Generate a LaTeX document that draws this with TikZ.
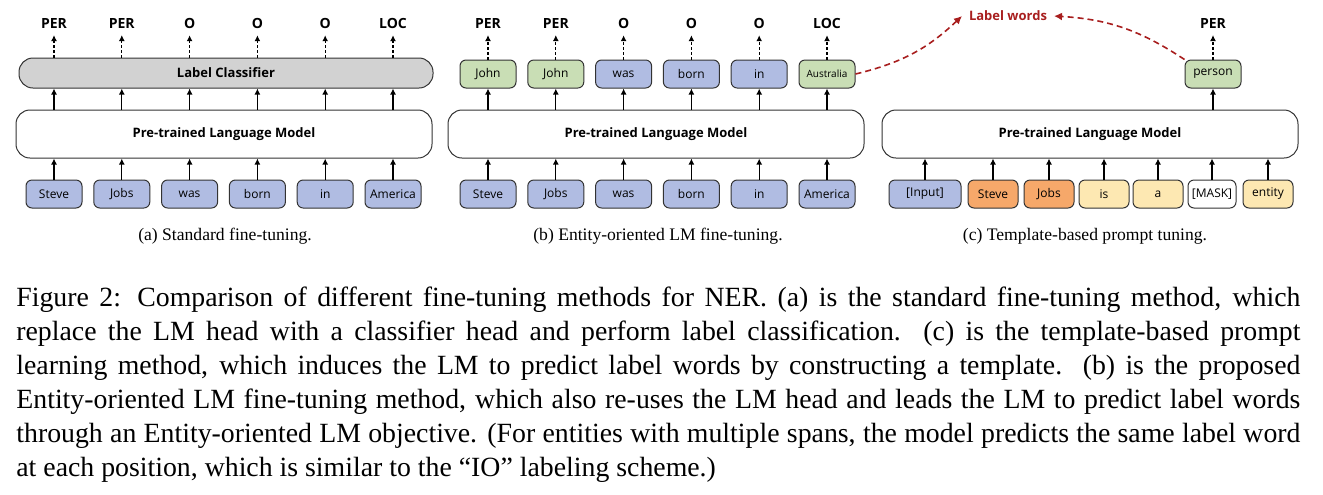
\documentclass[tikz,border=0pt]{standalone}
\usepackage{fontspec}
\setmainfont{Liberation Serif}
\newfontfamily\gsans{Open Sans}
\usetikzlibrary{positioning,arrows.meta}
\definecolor{tokblue}{RGB}{176,188,226}
\definecolor{tokgreen}{RGB}{201,222,181}
\definecolor{tokorange}{RGB}{246,168,106}
\definecolor{tokcream}{RGB}{253,232,178}
\definecolor{clsgray}{RGB}{210,210,210}
\definecolor{lwred}{RGB}{168,30,30}
\tikzset{
  tok/.style={draw=black!80, rounded corners=3pt, minimum width=28pt, minimum height=14pt,
    inner sep=1pt, font=\gsans\fontsize{6}{6}\selectfont, line width=0.5pt},
  big/.style={draw=black!80, rounded corners=7pt, minimum height=24pt, line width=0.5pt,
    font=\gsans\bfseries\fontsize{6.5}{6.5}\selectfont},
  lab/.style={font=\gsans\bfseries\fontsize{7}{7}\selectfont},
  subcap/.style={font=\fontsize{8.8}{8.8}\selectfont},
  up/.style={-{Latex[length=3pt,width=3pt]}, line width=0.6pt},
  upd/.style={up, dash pattern=on 1.5pt off 1pt},
  lw/.style={-{Latex[length=4pt,width=4pt]}, lwred, line width=0.8pt, dash pattern=on 3pt off 2pt}
}
\begin{document}
\begin{tikzpicture}[x=0.5pt,y=-0.5pt]
\useasboundingbox (0,0) rectangle (1323,494);

% (a) standard fine-tuning
\node[big, minimum width=208pt] (plma) at (224,134) {Pre-trained Language Model};
\node[big, fill=clsgray, minimum width=207pt, minimum height=15pt] (cls) at (226,73) {Label Classifier};
\foreach \w/\l [count=\i] in {Steve/PER,Jobs/PER,was/O,born/O,in/O,America/LOC}{
  \node[tok, fill=tokblue] (a\i) at ({54+(\i-1)*67.8},194) {\w};
  \node[lab] (la\i) at ({54+(\i-1)*67.8},23) {\l};
  \draw[up] (a\i.north) -- (a\i.north |- plma.south);
  \draw[up] (a\i.north |- plma.north) -- (a\i.north |- cls.south);
  \draw[upd] (a\i.north |- cls.north) -- (la\i.south);
}
\node[subcap] at (225,236) {(a) Standard fine-tuning.};

% (b) entity-oriented LM fine-tuning
\node[big, minimum width=208pt] (plmb) at (656,134) {Pre-trained Language Model};
\foreach \w/\o/\c/\l [count=\i] in {Steve/John/tokgreen/PER,Jobs/John/tokgreen/PER,was/was/tokblue/O,born/born/tokblue/O,in/in/tokblue/O,America/Australia/tokgreen/LOC}{
  \node[tok, fill=tokblue] (b\i) at ({488+(\i-1)*67.8},194) {\w};
  \node[tok, fill=\c] (o\i) at ({488+(\i-1)*67.8},74) {\ifnum\i=6 \fontsize{5}{5}\selectfont\fi\o};
  \node[lab] (lb\i) at ({488+(\i-1)*67.8},23) {\l};
  \draw[up] (b\i.north) -- (b\i.north |- plmb.south);
  \draw[up] (b\i.north |- plmb.north) -- (o\i.south);
  \draw[upd] (o\i.north) -- (lb\i.south);
}
\node[subcap] at (658,236) {(b) Entity-oriented LM fine-tuning.};

% (c) template-based prompt tuning
\node[big, minimum width=208pt] (plmc) at (1090,134) {Pre-trained Language Model};
\foreach \w/\c/\x/\tw [count=\i] in {{[Input]}/tokblue/925/36,Steve/tokorange/993/25,Jobs/tokorange/1049/25,is/tokcream/1104/25,a/tokcream/1158/25,{[MASK]}/white/1212/24,entity/tokcream/1268/25}{
  \node[tok, fill=\c, minimum width=\tw pt] (c\i) at (\x,194) {\w};
  \draw[up] (c\i.north) -- (c\i.north |- plmc.south);
}
\node[tok, fill=tokgreen] (pers) at (1213,74) {person};
\node[lab] (lc) at (1213,23) {PER};
\draw[up] (pers.south |- plmc.north) -- (pers.south);
\draw[upd] (pers.north) -- (lc.south);
\node[subcap] at (1085,236) {(c) Template-based prompt tuning.};

% label words
\node[font=\gsans\bfseries\fontsize{6.5}{6.5}\selectfont, text=lwred] (lw) at (1008,16) {Label words};
\draw[lw] (o6.east) to[bend right=15] (lw.west);
\draw[lw] (pers.north west) to[bend right=15] (lw.east);

% figure caption
\node[anchor=north west, text width=642pt, align=justify, inner sep=0pt,
  font=\fontsize{13.9}{17}\selectfont] (fig) at (16,287)
{Figure 2: Comparison of different fine-tuning methods for NER. (a) is the standard fine-tuning method, which\linebreak replace the LM head with a classifier head and perform label classification.\ \ (c) is the template-based prompt\linebreak learning method, which induces the LM to predict label words by constructing a template.\ \ (b) is the proposed\linebreak Entity-oriented LM fine-tuning method, which also re-uses the LM head and leads the LM to predict label words\linebreak through an Entity-oriented LM objective. (For entities with multiple spans, the model predicts the same label word\linebreak at each position, which is similar to the ``IO" labeling scheme.)};
\end{tikzpicture}
\end{document}
